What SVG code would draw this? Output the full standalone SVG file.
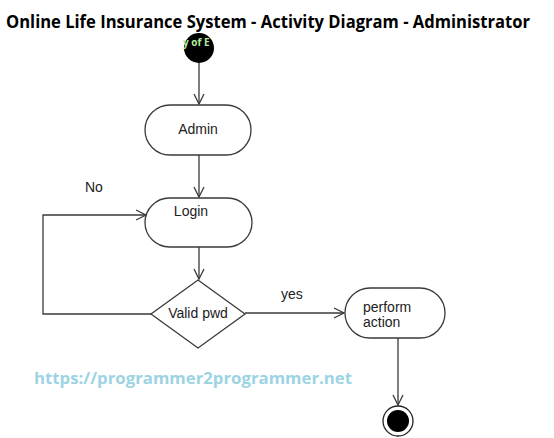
<svg xmlns="http://www.w3.org/2000/svg" width="554" height="438" viewBox="0 0 554 438">
<style>
.edge{fill:none;stroke:#3a3a3a;stroke-width:1.3}
.shape{fill:#fff;stroke:#3a3a3a;stroke-width:1.3}
.lbl{font-family:"Liberation Sans",Arial,sans-serif;font-size:14px;fill:#222}
</style>
<defs>
<marker id="arr" viewBox="0 0 12 12" refX="11" refY="6" markerWidth="12" markerHeight="12" markerUnits="userSpaceOnUse" orient="auto">
<path d="M1,1 L11,6 L1,11" fill="none" stroke="#3a3a3a" stroke-width="1.3"/>
</marker>
</defs>
<rect width="554" height="438" fill="#fff"/>
<text x="6" y="28" font-family="'Open Sans','Noto Sans',sans-serif" font-weight="bold" font-size="17.5" textLength="524" lengthAdjust="spacingAndGlyphs" fill="#000">Online Life Insurance System - Activity Diagram - Administrator</text>
<g id="connectors">
<path class="edge" d="M199,62 L199,104" marker-end="url(#arr)"/>
<path class="edge" d="M199,155 L199,197" marker-end="url(#arr)"/>
<path class="edge" d="M199,247 L199,279" marker-end="url(#arr)"/>
<path class="edge" d="M151,314 L43,314 L43,215 L146,215" marker-end="url(#arr)"/>
<path class="edge" d="M245,313 L344,313" marker-end="url(#arr)"/>
<path class="edge" d="M398,338 L398,405" marker-end="url(#arr)"/>
<text class="lbl" x="85" y="192">No</text>
<text class="lbl" x="281" y="299">yes</text>
</g>
<g id="start">
<circle cx="199" cy="48" r="15" fill="#000"/>
<text x="183" y="46" font-family="'Open Sans',sans-serif" font-weight="bold" font-size="10" fill="#b4eca0">y of E</text>
</g>
<g id="admin">
<rect class="shape" x="145" y="105" width="106" height="50" rx="25"/>
<text class="lbl" x="198" y="134" text-anchor="middle">Admin</text>
</g>
<g id="login">
<rect class="shape" x="145" y="198" width="107" height="49" rx="24.5"/>
<text class="lbl" x="191" y="216" text-anchor="middle" font-size="12">Login</text>
</g>
<g id="valid">
<polygon class="shape" points="198,280 245,314 198,348 151,314"/>
<text class="lbl" x="198" y="318" text-anchor="middle">Valid pwd</text>
</g>
<g id="perform">
<rect class="shape" x="345" y="288" width="100" height="50" rx="25"/>
<text class="lbl" x="363" y="312" font-size="12">perform</text>
<text class="lbl" x="363" y="327" font-size="12">action</text>
</g>
<g id="end">
<circle cx="398" cy="421" r="15" fill="#fff" stroke="#222" stroke-width="1.3"/>
<circle cx="398" cy="421" r="11" fill="#000"/>
</g>
<text x="34" y="384" font-family="'Open Sans','Noto Sans',sans-serif" font-weight="bold" font-size="16" textLength="318" lengthAdjust="spacingAndGlyphs" fill="#9dd3e3">https://programmer2programmer.net</text>
</svg>
